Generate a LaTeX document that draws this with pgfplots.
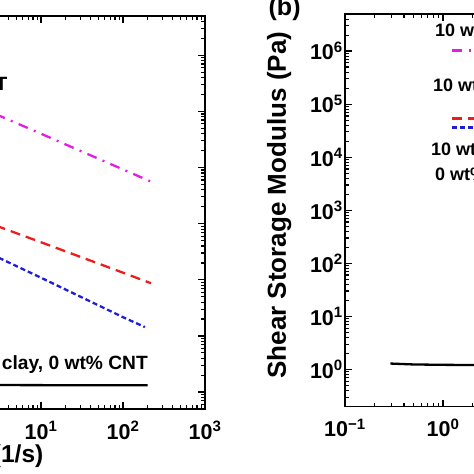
\documentclass[border=0pt]{standalone}
\usepackage{fontspec}
\setmainfont{Liberation Sans}
\usepackage{pgfplots}
\pgfplotsset{compat=1.18}
\definecolor{cmag}{RGB}{225,30,225}
\definecolor{cred}{RGB}{235,30,30}
\definecolor{cblue}{RGB}{30,30,215}
\tikzset{
  smag/.style={cmag, line width=2.3pt, dash pattern=on 10pt off 6.5pt on 2pt off 6.5pt},
  sred/.style={cred, line width=2.3pt, dash pattern=on 10pt off 6pt},
  sblue/.style={cblue, line width=2.3pt, dash pattern=on 5pt off 3pt},
  sblack/.style={black, line width=2.3pt},
}
\pgfplotsset{
  mypanel/.style={
    scale only axis,
    axis line style={line width=1.6pt},
    every tick/.style={black, line width=1.2pt},
    major tick length=7pt, minor tick length=4pt,
    tick align=inside,
    xtick={0.1,1,10,100,1000},
    xticklabels={10\textsuperscript{−1},10\textsuperscript{0},10\textsuperscript{1},10\textsuperscript{2},10\textsuperscript{3}},
    minor xtick={0.2,0.3,0.4,0.5,0.6,0.7,0.8,0.9,2,3,4,5,6,7,8,9,20,30,40,50,60,70,80,90,200,300,400,500,600,700,800,900},
    ytick={1,10,100,1000,10000,100000,1000000},
    yticklabels={10\textsuperscript{0},10\textsuperscript{1},10\textsuperscript{2},10\textsuperscript{3},10\textsuperscript{4},10\textsuperscript{5},10\textsuperscript{6}},
    tick label style={font=\fontsize{21.5}{24}\selectfont\bfseries, inner sep=1pt},
    xticklabel style={yshift=-11pt},
    yticklabel style={xshift=-1pt},
    label style={font=\fontsize{26}{30}\selectfont\bfseries},
    title style={font=\fontsize{25}{28}\selectfont\bfseries},
  }
}
\begin{document}
\begin{tikzpicture}
\useasboundingbox (0pt,0pt) rectangle (474pt,474pt);
\clip (0pt,0pt) rectangle (474pt,474pt);
% ---------------- panel (a), right part visible
\begin{loglogaxis}[mypanel,
  at={(-123pt,65pt)}, anchor=south west,
  width=328pt, height=393pt,
  xmin=0.1, xmax=1000, ymin=0.5, ymax=5e6,
  minor ytick={0.6,0.7,0.8,0.9,2,3,4,5,6,7,8,9,20,30,40,50,60,70,80,90,200,300,400,500,600,700,800,900,2e3,3e3,4e3,5e3,6e3,7e3,8e3,9e3,2e4,3e4,4e4,5e4,6e4,7e4,8e4,9e4,2e5,3e5,4e5,5e5,6e5,7e5,8e5,9e5,2e6,3e6,4e6},
  xlabel={Shear Rate (1/s)},
  xlabel style={at={(axis description cs:0.518,-0.12)}, anchor=east, font=\fontsize{24.5}{28}\selectfont\bfseries},
]
\addplot[smag] coordinates {(2.8,89300) (10,40000) (100,9250) (214,5700)};
\addplot[sred] coordinates {(2.8,927) (10,467) (100,134) (219,87)};
\addplot[sblue] coordinates {(2.5,284) (10,109) (100,21.6) (185,14.4)};
\addplot[sblack] coordinates {(0.3,1.35) (1,1.34) (10,1.33) (200,1.32)};
\end{loglogaxis}
\node[font=\fontsize{19.2}{22}\selectfont\bfseries, anchor=base east, inner sep=0pt] at (7.5pt,383pt) {10 wt\% clay, 10 wt\% CNT};
\node[font=\fontsize{19.2}{22}\selectfont\bfseries, anchor=base east, inner sep=0pt] at (148pt,104pt) {0 wt\% clay, 0 wt\% CNT};
% ---------------- panel (b), left part visible
\begin{loglogaxis}[mypanel,
  at={(345pt,67.5pt)}, anchor=south west,
  width=392pt, height=392.5pt,
  xmin=0.1, xmax=1000, ymin=0.2, ymax=5e6,
  minor ytick={0.3,0.4,0.5,0.6,0.7,0.8,0.9,2,3,4,5,6,7,8,9,20,30,40,50,60,70,80,90,200,300,400,500,600,700,800,900,2e3,3e3,4e3,5e3,6e3,7e3,8e3,9e3,2e4,3e4,4e4,5e4,6e4,7e4,8e4,9e4,2e5,3e5,4e5,5e5,6e5,7e5,8e5,9e5,2e6,3e6,4e6},
  ylabel={Shear Storage Modulus (Pa)},
  ylabel style={at={(axis description cs:-0.168,0.513)}, anchor=center},
  title={(b)},
  title style={at={(axis description cs:-0.154,0.982)}, anchor=base},
]
\addplot[sblack] coordinates {(0.29,1.29) (0.5,1.24) (1,1.22) (2,1.21) (10,1.2) (100,1.2)};
\end{loglogaxis}
\begin{scope}[font=\fontsize{18}{21}\selectfont\bfseries]
\node[anchor=base west, inner sep=0pt] at (435pt,437pt) {10 wt\% clay, 10 wt\% CNT};
\node[anchor=base west, inner sep=0pt] at (433pt,382.5pt) {10 wt\% clay, 5 wt\% CNT};
\node[anchor=base west, inner sep=0pt] at (431pt,318.5pt) {10 wt\% clay, 1 wt\% CNT};
\node[anchor=base west, inner sep=0pt] at (435pt,293.5pt) {0 wt\% clay, 0 wt\% CNT};
\end{scope}
\draw[smag] (452pt,423.5pt) -- (540pt,423.5pt);
\draw[sred] (452pt,355.5pt) -- (540pt,355.5pt);
\draw[sblue] (452pt,346.5pt) -- (540pt,346.5pt);
\end{tikzpicture}
\end{document}
